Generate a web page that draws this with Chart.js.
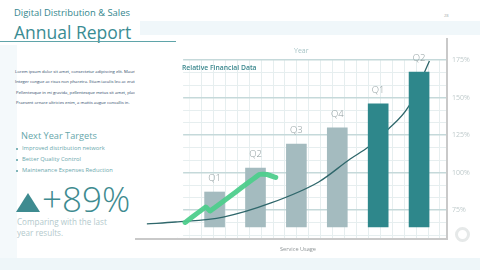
<!DOCTYPE html>
<html><head><meta charset="utf-8">
<script src="https://cdn.jsdelivr.net/npm/chart.js@4.4.1/dist/chart.umd.min.js"></script>
<style>
html,body{margin:0;padding:0;background:#fff;width:480px;height:270px;overflow:hidden;font-family:'Open Sans',sans-serif;}
.abs{position:absolute;white-space:nowrap;line-height:1;}
#wrap{position:absolute;left:130px;top:30px;width:350px;height:235px;}
</style></head><body>
<div class="abs" style="left:140px;top:21px;width:340px;height:14px;background:#f0f7fa;"></div>
<div class="abs" style="left:0;top:45px;width:17px;height:213px;background:#f4f9fb;"></div>
<div class="abs" style="left:0;top:258px;width:480px;height:12px;background:#eef6f9;"></div>

<div class="abs" style="left:14px;top:7.8px;font-size:9.4px;color:#34868d;">Digital Distribution &amp; Sales</div>
<div class="abs" style="left:14px;top:23.5px;font-size:17.5px;color:#3a8c93;">Annual Report</div>
<div class="abs" style="left:0;top:40.5px;width:176px;height:1.3px;background:#5fa4a9;"></div>

<div class="abs" style="left:15px;top:69.8px;font-size:4.2px;color:#2c4868;">Lorem ipsum dolor sit amet, consectetur adipiscing elit. Mauris bibendum.</div>
<div class="abs" style="left:15px;top:79.8px;font-size:4.2px;color:#2c4868;">Integer congue ac risus non pharetra. Etiam iaculis leo ac erat auctor, a iaculis justo.</div>
<div class="abs" style="left:16px;top:90.8px;font-size:4.2px;color:#2c4868;">Pellentesque in mi gravida, pellentesque metus sit amet, placerat lorem.</div>
<div class="abs" style="left:16px;top:100.8px;font-size:4.2px;color:#2c4868;">Praesent ornare ultricies enim, a mattis augue convallis in.</div>

<div class="abs" style="left:21px;top:131px;font-size:9.2px;color:#66a7ab;">Next Year Targets</div>
<div class="abs" style="left:15.5px;top:148px;width:2px;height:2px;border-radius:1px;background:#5a9fa5;"></div>
<div class="abs" style="left:15.5px;top:159px;width:2px;height:2px;border-radius:1px;background:#5a9fa5;"></div>
<div class="abs" style="left:15.5px;top:170px;width:2px;height:2px;border-radius:1px;background:#5a9fa5;"></div>
<div class="abs" style="left:22px;top:146px;font-size:5.8px;color:#6aa8ad;">Improved distribution network</div>
<div class="abs" style="left:22px;top:157px;font-size:5.8px;color:#6aa8ad;">Better Quality Control</div>
<div class="abs" style="left:22px;top:168px;font-size:5.8px;color:#6aa8ad;">Maintenance Expenses Reduction</div>

<div class="abs" style="left:16px;top:193px;width:0;height:0;border-left:12px solid transparent;border-right:12px solid transparent;border-bottom:19px solid #3e8b90;"></div>
<div class="abs" style="left:42px;top:181px;font-size:35px;font-weight:300;color:#3e8b90;">+89%</div>
<div class="abs" style="left:17px;top:217px;font-size:8.1px;line-height:10.5px;color:#b3c9cc;white-space:normal;width:110px;">Comparing with the last<br>year results.</div>

<div class="abs" style="left:444px;top:14px;font-size:4px;color:#a0a8a8;">28</div>

<div id="wrap"><canvas id="c" width="350" height="235"></canvas></div>

<div class="abs" style="left:182px;top:64.5px;font-size:6.8px;font-weight:600;color:#3a878d;">Relative Financial Data</div>
<div class="abs" style="left:294px;top:47.3px;font-size:7px;color:#a7c4c6;">Year</div>
<div class="abs" style="left:280px;top:247px;font-size:5.6px;color:#8e9496;">Service Usage</div>
<div class="abs" style="left:454.5px;top:226.5px;width:9px;height:9px;border-radius:50%;border:3px solid #e6e9e9;"></div>

<script>
// ---- data ----
const quarterLabels = ['Q1','Q2','Q3','Q4','Q1','Q2'];
const quarterValues = [87, 103, 119, 129.7, 145.7, 167];
const barStartValue = 63.7;
const isCurrentYear = [false,false,false,false,true,true];
const yTickValues = [75,100,125,150,175];
const yTickLabels = ['75%','100%','125%','150%','175%'];
const usageX = [0.12, 1.88, 2.2, 6.37, 7.0, 7.73];
const usageY = [66.7, 77, 74.3, 98.7, 98.7, 96.7];
const trendX = [-3.08, -0.68, 3.32, 7.33, 11.33, 13.97, 15.49, 17.09, 18.85, 20.62];
const trendY = [65.7, 67, 70.3, 79.7, 93.7, 109, 117, 128.3, 143.7, 174.3];

// ---- layout ----
const X_MIN = -3.4, X_MAX = 21.5, Y_MIN = 55.67, Y_MAX = 175;
const BAR_X0 = 2.6, BAR_STEP = 3.43;
const MINOR = 25/3;

const barPoints = quarterValues.map((v,i)=>({x: BAR_X0 + i*BAR_STEP, y:[barStartValue, v], q: quarterLabels[i]}));
const curBars = barPoints.filter((b,i)=>isCurrentYear[i]);
const prevBars = barPoints.filter((b,i)=>!isCurrentYear[i]);

function isMajor(v){ const k=(v-75)/25; return Math.abs(k-Math.round(k))<1e-6; }

const gridMask = {
  id:'gridMask',
  beforeDatasetsDraw(chart){
    const {ctx, chartArea:a, scales:{x}} = chart;
    const x0 = x.getPixelForValue(0);
    ctx.save(); ctx.fillStyle='#ffffff';
    ctx.fillRect(a.left-1, a.top-2, x0 - a.left + 0.5, (a.bottom-1.5) - (a.top-2));
    ctx.restore();
  }
};
const axisExt = {
  id:'axisExt',
  afterDraw(chart){
    const {ctx, chartArea:a} = chart;
    ctx.save(); ctx.strokeStyle='#c9c9c9'; ctx.lineWidth=2;
    ctx.beginPath(); ctx.moveTo(a.right, a.top-22); ctx.lineTo(a.right, a.top+1); ctx.stroke();
    ctx.restore();
  }
};
const barLabels = {
  id:'barLabels',
  afterDatasetsDraw(chart){
    const {ctx} = chart;
    ctx.save();
    ctx.font = '300 9.5px "Open Sans"';
    ctx.fillStyle = '#8c9a9c';
    ctx.textAlign = 'center'; ctx.textBaseline = 'alphabetic';
    chart.data.datasets.forEach((ds, di)=>{
      if (ds.type !== 'bar') return;
      chart.getDatasetMeta(di).data.forEach((el, i)=>{
        const top = Math.min(el.y, el.base);
        ctx.fillText(ds.data[i].q, el.x, top - 11);
      });
    });
    ctx.restore();
  }
};

new Chart(document.getElementById('c'), {
  type:'bar',
  data:{ datasets:[
    {type:'line', label:'Usage', data: usageX.map((x,i)=>({x, y:usageY[i]})),
      borderColor:'rgba(78,206,140,0.95)', borderWidth:5, pointRadius:0, tension:0.08,
      borderCapStyle:'round', borderJoinStyle:'round', order:0},
    {type:'bar', label:'Current', data: curBars, backgroundColor:'#2e878b', barThickness:20, grouped:false, order:1},
    {type:'line', label:'Trend', data: trendX.map((x,i)=>({x, y:trendY[i]})),
      borderColor:'#2f676b', borderWidth:1.3, pointRadius:0, cubicInterpolationMode:'monotone', order:2},
    {type:'bar', label:'Previous', data: prevBars, backgroundColor:'#a4bbbf', barThickness:20, grouped:false, order:3}
  ]},
  options:{
    responsive:false, animation:false, devicePixelRatio:1,
    layout:{ padding:{left:6, top:30, bottom:26, right:0} },
    plugins:{ legend:{display:false}, tooltip:{enabled:false}, title:{display:false} },
    scales:{
      x:{ type:'linear', min:X_MIN, max:X_MAX,
        afterBuildTicks: s => { const t=[]; for (let v=0; v<=21; v++) t.push({value:v}); s.ticks=t; },
        ticks:{display:false},
        grid:{ drawTicks:false, lineWidth:1, color: c => (c.tick && c.tick.value < 1.5) ? '#f2f6f6' : '#e6eeef' },
        border:{display:true, color:'#c9c9c9', width:2},
        afterFit: s => { s.height = 0; } },
      y:{ type:'linear', position:'right', min:Y_MIN, max:Y_MAX,
        afterBuildTicks: s => { const t=[]; for (let k=0; Y_MAX - k*MINOR > Y_MIN; k++) t.push({value: Y_MAX - k*MINOR}); s.ticks=t.reverse(); },
        ticks:{ padding:5, color:'#bfcacb', font:{family:'Open Sans', size:7},
          callback: v => isMajor(v) ? yTickLabels[yTickValues.indexOf(Math.round(v))] : '' },
        grid:{ drawTicks:false,
          color: c => (c.tick && isMajor(c.tick.value)) ? '#c5d9da' : '#e6eeef',
          lineWidth: c => (c.tick && isMajor(c.tick.value)) ? 1.5 : 1 },
        border:{display:true, color:'#c9c9c9', width:2},
        afterFit: s => { s.width = 33; } }
    }
  },
  plugins:[gridMask, axisExt, barLabels]
});
</script>
</body></html>
